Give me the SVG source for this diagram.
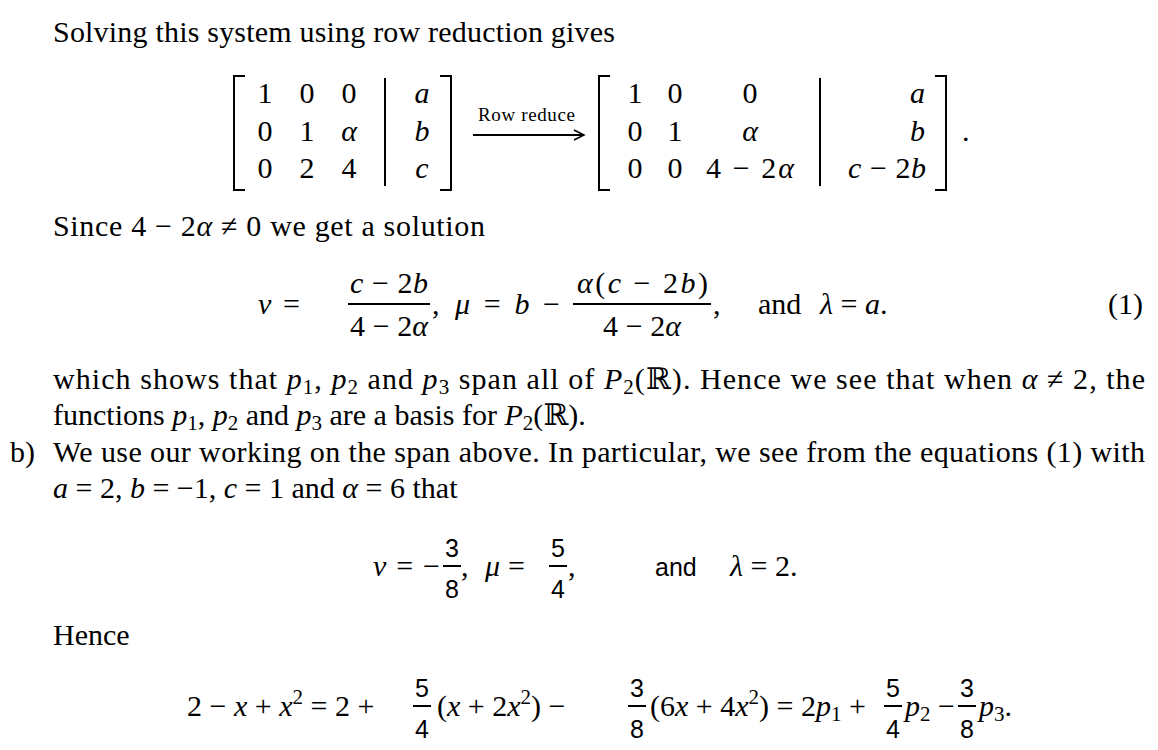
<svg xmlns="http://www.w3.org/2000/svg" width="1158" height="750" viewBox="0 0 1158 750">
<style>
text{font-family:"Liberation Serif","DejaVu Serif",serif;font-size:30px;fill:#000}
.i{font-style:italic}
.s{font-family:"Liberation Sans","DejaVu Sans",sans-serif;font-size:25px}
.m{text-anchor:middle}
.e{text-anchor:end}
.b{font-size:21px}
line,path{stroke:#000;stroke-width:2;fill:none}
</style>
<rect width="1158" height="750" fill="#fff"/>
<text x="53" y="42" textLength="562" lengthAdjust="spacing">Solving this system using row reduction gives</text>
<g id="matrix1">
<path d="M245,76 H234 V190 H245"/><path d="M440,76 H451 V190 H440"/>
<line x1="385" y1="78" x2="385" y2="186"/>
<text class="m" x="265" y="103">1</text><text class="m" x="307" y="103">0</text><text class="m" x="349" y="103">0</text><text class="m i" x="422" y="103">a</text>
<text class="m" x="265" y="141">0</text><text class="m" x="307" y="141">1</text><text class="m i" x="349" y="141">α</text><text class="m i" x="422" y="141">b</text>
<text class="m" x="265" y="178">0</text><text class="m" x="307" y="178">2</text><text class="m" x="349" y="178">4</text><text class="m i" x="422" y="178">c</text>
</g>
<g id="arrow">
<text x="478" y="121" style="font-size:19px" textLength="97">Row reduce</text>
<line x1="473" y1="135" x2="582" y2="135"/><path d="M574,130 L584,135 L574,140" style="stroke-width:1.5"/>
</g>
<g id="matrix2">
<path d="M610,76 H599 V190 H610"/><path d="M935,76 H946 V190 H935"/>
<line x1="820" y1="78" x2="820" y2="186"/>
<text class="m" x="635" y="103">1</text><text class="m" x="675" y="103">0</text><text class="m" x="750" y="103">0</text><text class="e i" x="925" y="103">a</text>
<text class="m" x="635" y="141">0</text><text class="m" x="675" y="141">1</text><text class="m i" x="750" y="141">α</text><text class="e i" x="925" y="141">b</text>
<text class="m" x="635" y="178">0</text><text class="m" x="675" y="178">0</text><text x="706" y="178" textLength="88">4 − 2<tspan class="i">α</tspan></text><text x="848" y="178" textLength="78"><tspan class="i">c</tspan> − 2<tspan class="i">b</tspan></text>
<text x="962" y="141">.</text>
</g>
<text x="53" y="236" textLength="432" lengthAdjust="spacing">Since 4 − 2<tspan class="i">α</tspan> ≠ 0 we get a solution</text>
<g id="eq1">
<text x="258" y="314" textLength="42"><tspan class="i">ν</tspan> =</text>
<text x="350" y="293" textLength="78"><tspan class="i">c</tspan> − 2<tspan class="i">b</tspan></text>
<line x1="348" y1="304" x2="430" y2="304"/>
<text x="350" y="336" textLength="78">4 − 2<tspan class="i">α</tspan></text>
<text x="432" y="314">,</text>
<text x="455" y="314" textLength="105"><tspan class="i">μ</tspan> = <tspan class="i">b</tspan> −</text>
<text x="577" y="293" textLength="131"><tspan class="i">α</tspan>(<tspan class="i">c</tspan> − 2<tspan class="i">b</tspan>)</text>
<line x1="573" y1="304" x2="711" y2="304"/>
<text x="603" y="336" textLength="78">4 − 2<tspan class="i">α</tspan></text>
<text x="713" y="314">,</text>
<text x="758" y="314">and</text>
<text x="820" y="314"><tspan class="i">λ</tspan> = <tspan class="i">a</tspan>.</text>
<text x="1108" y="314">(1)</text>
</g>
<text x="53" y="389" textLength="1092" lengthAdjust="spacing">which shows that <tspan class="i">p</tspan><tspan class="b" dy="5">1</tspan><tspan dy="-5">, </tspan><tspan class="i">p</tspan><tspan class="b" dy="5">2</tspan><tspan dy="-5"> and </tspan><tspan class="i">p</tspan><tspan class="b" dy="5">3</tspan><tspan dy="-5"> span all of </tspan><tspan class="i">P</tspan><tspan class="b" dy="5">2</tspan><tspan dy="-5">(ℝ). Hence we see that when </tspan><tspan class="i">α</tspan> ≠ 2, the</text>
<text x="53" y="425">functions <tspan class="i">p</tspan><tspan class="b" dy="5">1</tspan><tspan dy="-5">, </tspan><tspan class="i">p</tspan><tspan class="b" dy="5">2</tspan><tspan dy="-5"> and </tspan><tspan class="i">p</tspan><tspan class="b" dy="5">3</tspan><tspan dy="-5"> are a basis for </tspan><tspan class="i">P</tspan><tspan class="b" dy="5">2</tspan><tspan dy="-5">(ℝ).</tspan></text>
<text x="10" y="462">b)</text>
<text x="53" y="462" textLength="1092" lengthAdjust="spacing">We use our working on the span above. In particular, we see from the equations (1) with</text>
<text x="53" y="498"><tspan class="i">a</tspan> = 2, <tspan class="i">b</tspan> = −1, <tspan class="i">c</tspan> = 1 and <tspan class="i">α</tspan> = 6 that</text>
<g id="eq2">
<text x="373" y="576" textLength="67"><tspan class="i">ν</tspan> = −</text>
<text class="s m" x="452" y="557">3</text><line x1="443" y1="566" x2="461" y2="566"/><text class="s m" x="452" y="598">8</text>
<text x="461" y="576">,</text>
<text x="485" y="576" textLength="40"><tspan class="i">μ</tspan> =</text>
<text class="s m" x="558" y="557">5</text><line x1="549" y1="566" x2="567" y2="566"/><text class="s m" x="558" y="598">4</text>
<text x="568" y="576">,</text>
<text class="s" x="655" y="576">and</text>
<text x="730" y="576"><tspan class="i">λ</tspan> = 2.</text>
</g>
<text x="53" y="645">Hence</text>
<g id="eq3">
<text x="187" y="716"><tspan>2 − </tspan><tspan class="i">x</tspan><tspan> + </tspan><tspan class="i">x</tspan><tspan class="b" dy="-12">2</tspan><tspan dy="12"> = 2 +</tspan></text>
<text class="s m" x="422" y="697">5</text><line x1="413" y1="706" x2="431" y2="706"/><text class="s m" x="422" y="738">4</text>
<text x="437" y="716"><tspan>(</tspan><tspan class="i">x</tspan><tspan> + 2</tspan><tspan class="i">x</tspan><tspan class="b" dy="-12">2</tspan><tspan dy="12">) −</tspan></text>
<text class="s m" x="637" y="697">3</text><line x1="628" y1="706" x2="646" y2="706"/><text class="s m" x="637" y="738">8</text>
<text x="650" y="716"><tspan>(6</tspan><tspan class="i">x</tspan><tspan> + 4</tspan><tspan class="i">x</tspan><tspan class="b" dy="-12">2</tspan><tspan dy="12">) = 2</tspan><tspan class="i">p</tspan><tspan class="b" dy="5">1</tspan><tspan dy="-5"> +</tspan></text>
<text class="s m" x="893" y="697">5</text><line x1="884" y1="706" x2="902" y2="706"/><text class="s m" x="893" y="738">4</text>
<text x="905" y="716"><tspan class="i">p</tspan><tspan class="b" dy="5">2</tspan><tspan dy="-5"> −</tspan></text>
<text class="s m" x="967" y="697">3</text><line x1="958" y1="706" x2="976" y2="706"/><text class="s m" x="967" y="738">8</text>
<text x="979" y="716"><tspan class="i">p</tspan><tspan class="b" dy="5">3</tspan><tspan dy="-5">.</tspan></text>
</g>
</svg>
